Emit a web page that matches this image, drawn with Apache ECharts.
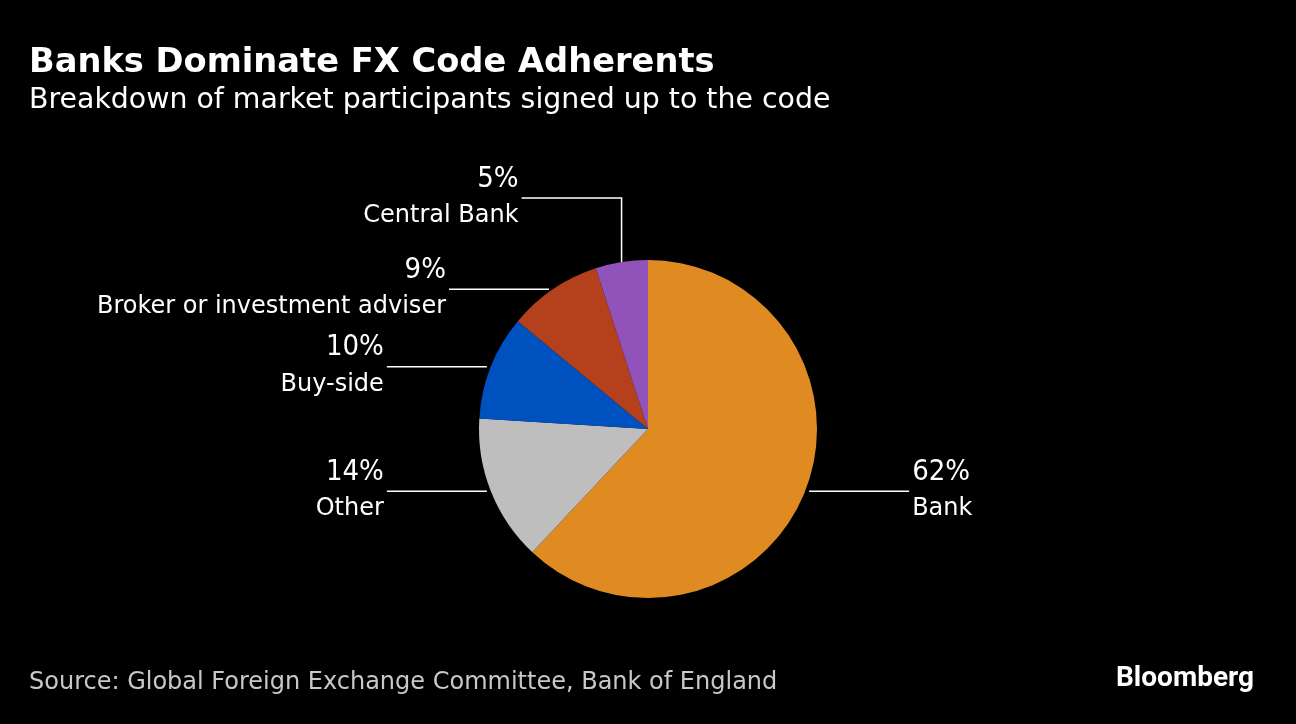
<!DOCTYPE html>
<html>
<head>
<meta charset="utf-8">
<script src="https://cdn.jsdelivr.net/npm/echarts@6/dist/echarts.min.js"></script>
<style>
html,body{margin:0;padding:0;background:#000;}
#c{width:1296px;height:724px;}
</style>
</head>
<body>
<div id="c"></div>
<script>
// ---- data ----
const categories = ['Bank', 'Other', 'Buy-side', 'Broker or investment adviser', 'Central Bank'];
const shares = [62, 14, 10, 9, 5];
const sliceColors = ['#E08A22', '#BEBEBE', '#0051C0', '#B5411C', '#9153BA'];

// ---- text ----
const titleText = 'Banks Dominate FX Code Adherents';
const subtitleText = 'Breakdown of market participants signed up to the code';
const sourceText = 'Source: Global Foreign Exchange Committee, Bank of England';

const FONT = '"DejaVu Sans", sans-serif';
const FONT_C = '"DejaVu Sans Condensed", "DejaVu Sans", sans-serif';
const lineGap = 4, lineLen = 100, textGap = 3;
const labelLift = { 'Central Bank': 64 };

const chart = echarts.init(document.getElementById('c'));
const center = [648, 429];
const radius = 169;

chart.setOption({
  backgroundColor: '#000',
  animation: false,
  graphic: [
    { type: 'text', left: 29, top: 46, style: { text: titleText, fill: '#fff', font: 'bold 33.7px ' + FONT } },
    { type: 'text', left: 29, top: 87, style: { text: subtitleText, fill: '#fff', font: '28.4px ' + FONT } },
    { type: 'text', left: 29, top: 671, style: { text: sourceText, fill: '#c8c8c8', font: '24px ' + FONT } },
    { type: 'text', left: 1116, top: 665, style: { text: 'Bloomberg', fill: '#fff', font: 'bold 28px Roboto, "Open Sans", sans-serif' } }
  ],
  series: [{
    type: 'pie',
    center: center,
    radius: radius,
    startAngle: 90,
    clockwise: true,
    avoidLabelOverlap: false,
    itemStyle: { borderWidth: 0 },
    data: categories.map((n, i) => ({ name: n, value: shares[i], itemStyle: { color: sliceColors[i] } })),
    label: {
      show: true,
      formatter: p => '{p|' + p.value + '%}\n{n|' + p.name + '}',
      rich: {
        p: { fontFamily: FONT_C, fontSize: 29, lineHeight: 36, color: '#fff' },
        n: { fontFamily: FONT, fontSize: 24, lineHeight: 38, color: '#fff' }
      }
    },
    labelLine: { show: true, length: 10, length2: 10, lineStyle: { color: '#fff', width: 1.5 } },
    labelLayout: function (params) {
      const p0 = params.labelLinePoints[0];
      const name = categories[params.dataIndex];
      const left = p0[0] < center[0];
      const lift = labelLift[name] || 0;
      const ly = p0[1] - lift;
      const sx = left ? p0[0] - (lift ? 0 : lineGap) : p0[0] + lineGap;
      const ex = left ? sx - lineLen : sx + lineLen;
      const pts = lift ? [[p0[0], p0[1]], [p0[0], ly], [ex, ly]] : [[sx, ly], [(sx + ex) / 2, ly], [ex, ly]];
      return {
        x: left ? ex - textGap : ex + textGap,
        y: ly,
        align: left ? 'right' : 'left',
        verticalAlign: 'middle',
        labelLinePoints: pts
      };
    }
  }]
});
</script>
</body>
</html>
